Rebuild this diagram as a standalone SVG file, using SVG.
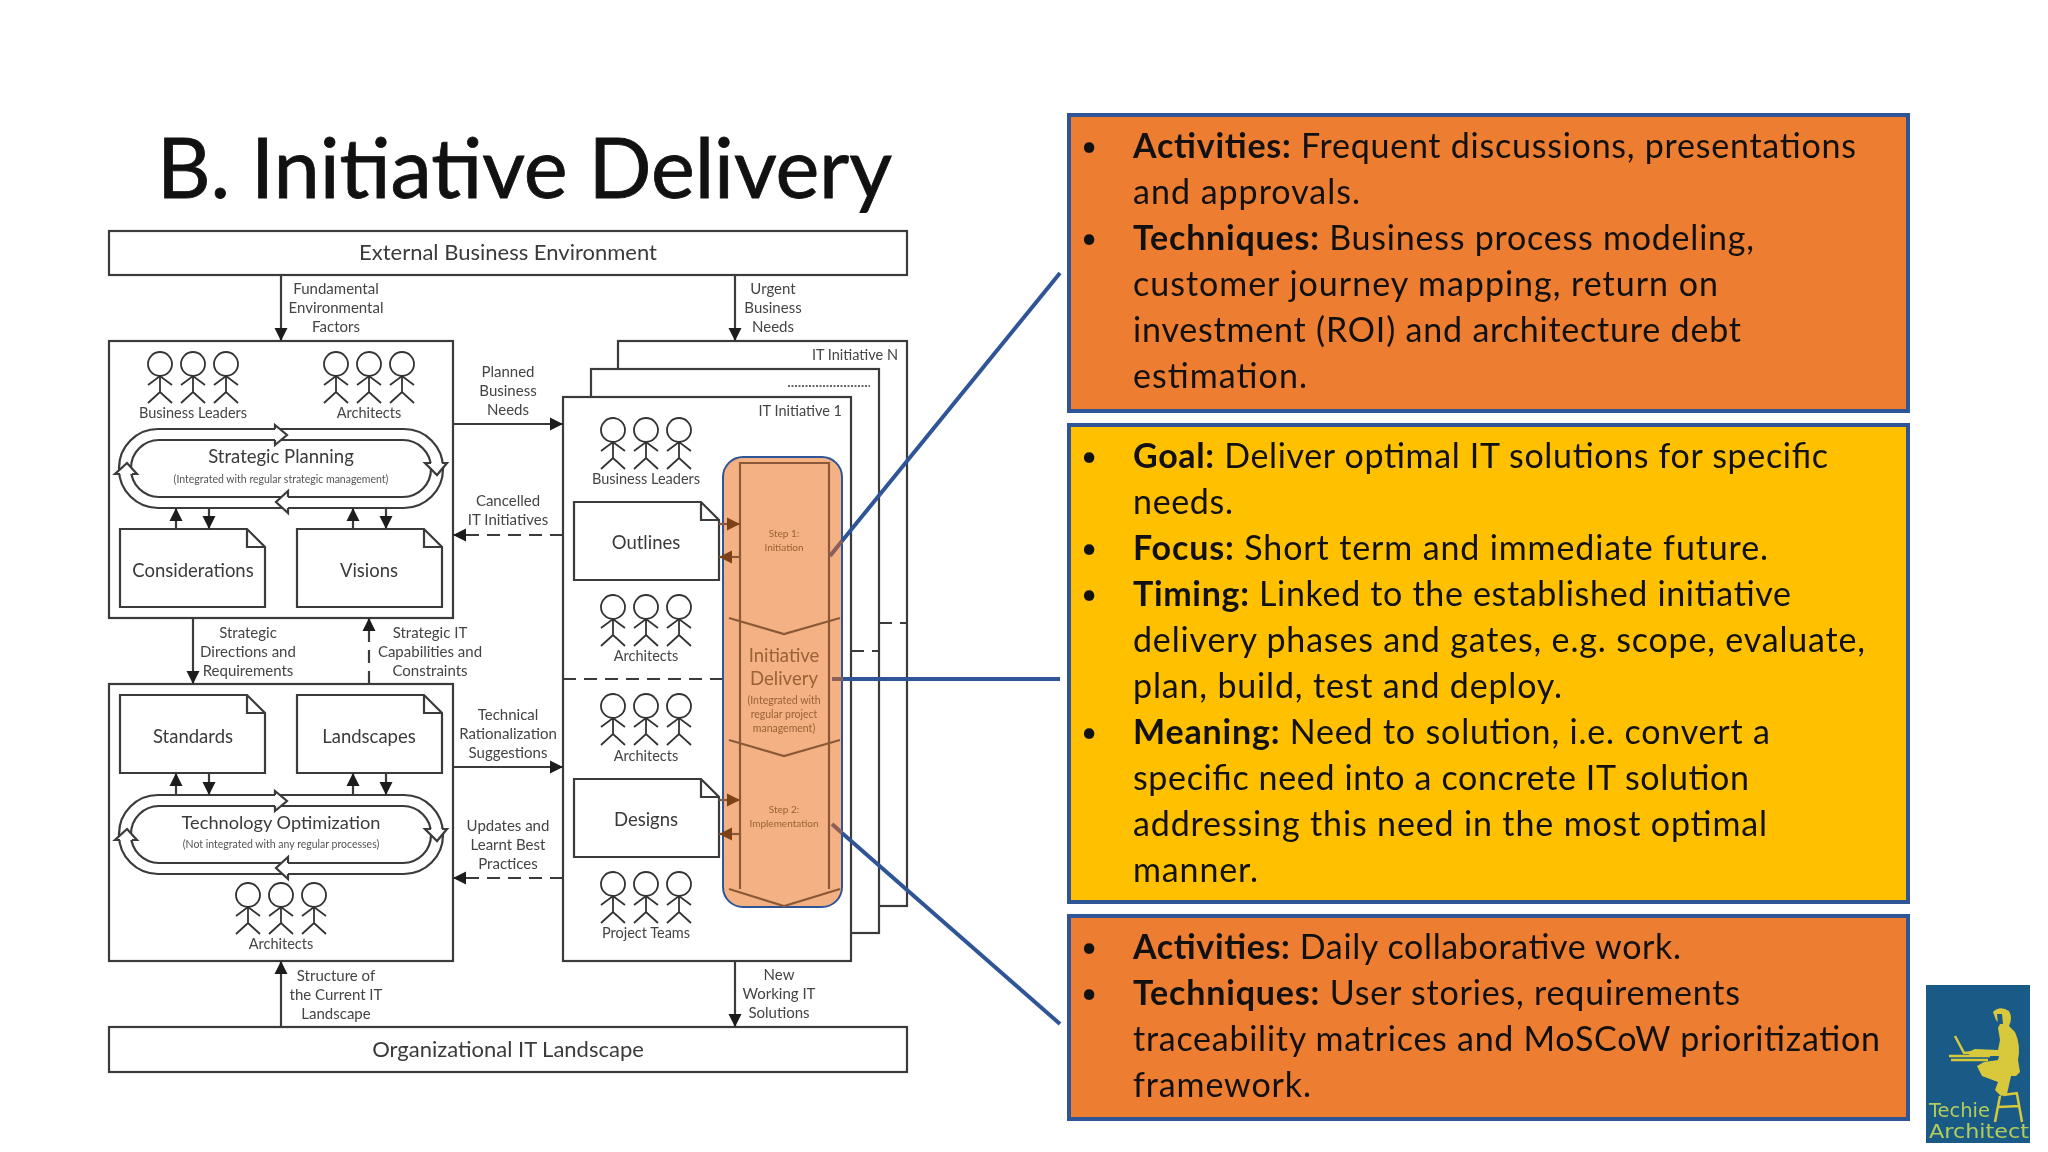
<svg xmlns="http://www.w3.org/2000/svg" width="2048" height="1152" viewBox="0 0 2048 1152">
<style>
text{font-family:"Lato","Liberation Sans",sans-serif}
.box{fill:#fff;stroke:#3a3a3a;stroke-width:2.2}
.ln{fill:none;stroke:#3a3a3a;stroke-width:2.2}
.arr{fill:none;stroke:#3a3a3a;stroke-width:2.2;marker-end:url(#ah)}
.dash{stroke-dasharray:13 8}
.lb{font-size:15px;fill:#444;text-anchor:middle}
.pl{font-size:14.5px;fill:#444;text-anchor:middle}
.doc{font-size:18.5px;fill:#3a3a3a;text-anchor:middle}
.big{font-size:22px;fill:#3a3a3a;text-anchor:middle}
.sub{font-size:10.5px;fill:#555;text-anchor:middle}
.br{fill:none;stroke:#8a5a38;stroke-width:2.2}
.brt{fill:#9a6238;text-anchor:middle}
.panel{stroke:#2f5597;stroke-width:4}
.t{font-size:34px;fill:#111}
.bu{font-size:28px;fill:#111}
.b{font-weight:700}
.fig{fill:none;stroke:#333;stroke-width:1.8}
.lo{fill:#d8c83c}
.lot{font-family:"DejaVu Sans",sans-serif;font-size:20px;fill:#b4cc58}
</style>
<defs>
<marker id="ah" markerUnits="userSpaceOnUse" markerWidth="14" markerHeight="14" refX="13" refY="7" orient="auto"><path d="M0,0.5 L13,7 L0,13.5 Z" fill="#1c1c1c"/></marker>
<marker id="bh" markerUnits="userSpaceOnUse" markerWidth="14" markerHeight="14" refX="13" refY="7" orient="auto"><path d="M0,0.5 L13,7 L0,13.5 Z" fill="#7a4216"/></marker>
<g id="man"><circle cx="0" cy="0" r="12"/><path d="M0,12 V28 M-12,21 L0,12 L12,21 M-12,39 L0,28 L12,39"/></g>
<g id="trio" class="fig"><use href="#man" x="-33"/><use href="#man"/><use href="#man" x="33"/></g>
<g id="loop">
<rect class="ln" x="119" y="429" width="324" height="79" rx="39"/>
<rect class="ln" x="131" y="440" width="300" height="57" rx="28"/>
<path class="ln" style="fill:#fff" d="M275,429 V425 L287,435 L275,445 V440"/>
<path class="ln" style="fill:#fff" d="M288,497 V491 L276,502 L288,513 V508"/>
<path class="ln" style="fill:#fff" d="M431,463 H425 L437,475 L447,463 H442"/>
<path class="ln" style="fill:#fff" d="M120,474 H115 L127,463 L137,474 H132"/>
</g>
<path id="doc" class="box" d="M0,0 H127 L145,18 V78 H0 Z M127,0 V18 H145"/>
<filter id="soft" x="-2%" y="-2%" width="104%" height="104%"><feGaussianBlur stdDeviation="0.5"/></filter>
</defs>
<rect width="2048" height="1152" fill="#fff"/>
<g id="title"><text x="157" y="198" font-size="83" fill="#111" stroke="#111" stroke-width="0.8" textLength="735">B. Initiative Delivery</text></g>
<g filter="url(#soft)">
<g id="external-env"><rect class="box" x="109" y="231" width="798" height="44"/><text class="big" x="508" y="260">External Business Environment</text></g>
<g id="org-landscape"><rect class="box" x="109" y="1027" width="798" height="45"/><text class="big" x="508" y="1057">Organizational IT Landscape</text></g>
<g id="initiative-n"><rect class="box" x="618" y="341" width="289" height="565"/><text class="pl" x="898" y="360" style="text-anchor:end">IT Initiative N</text></g>
<g id="initiative-mid"><rect class="box" x="591" y="369" width="288" height="564"/><path d="M788,386 H870" stroke="#666" stroke-width="2" stroke-dasharray="2 1.5"/></g>
<g id="initiative-1"><rect class="box" x="563" y="397" width="288" height="564"/><text class="pl" x="842" y="416" style="text-anchor:end">IT Initiative 1</text>
<use href="#trio" x="646" y="430"/><text class="pl" x="646" y="484">Business Leaders</text>
<use href="#trio" x="646" y="607"/><text class="pl" x="646" y="661">Architects</text>
<use href="#trio" x="646" y="706"/><text class="pl" x="646" y="761">Architects</text>
<use href="#trio" x="646" y="884"/><text class="pl" x="646" y="938">Project Teams</text>
</g>
<g id="strategic-planning"><rect class="box" x="109" y="341" width="344" height="277"/>
<use href="#trio" x="193" y="364"/><text class="pl" x="193" y="418">Business Leaders</text>
<use href="#trio" x="369" y="364"/><text class="pl" x="369" y="418">Architects</text>
<use href="#loop"/>
<text x="281" y="463" font-size="18.5" fill="#3a3a3a" text-anchor="middle">Strategic Planning</text>
<text class="sub" x="281" y="483">(Integrated with regular strategic management)</text>
</g>
<g id="considerations"><use href="#doc" x="120" y="529"/><text class="doc" x="193" y="577">Considerations</text></g>
<g id="visions"><use href="#doc" x="297" y="529"/><text class="doc" x="369" y="577">Visions</text></g>
<g id="technology-optimization"><rect class="box" x="109" y="684" width="344" height="277"/>
<use href="#loop" y="366"/>
<text x="281" y="829" font-size="18.2" fill="#3a3a3a" text-anchor="middle">Technology Optimization</text>
<text class="sub" x="281" y="848">(Not integrated with any regular processes)</text>
<use href="#trio" x="281" y="895"/><text class="pl" x="281" y="949">Architects</text>
</g>
<g id="standards"><use href="#doc" x="120" y="695"/><text class="doc" x="193" y="743">Standards</text></g>
<g id="landscapes"><use href="#doc" x="297" y="695"/><text class="doc" x="369" y="743">Landscapes</text></g>
<g id="outlines"><use href="#doc" x="574" y="502"/><text class="doc" x="646" y="549">Outlines</text></g>
<g id="designs"><use href="#doc" x="574" y="779"/><text class="doc" x="646" y="826">Designs</text></g>
<g id="connectors">
<path class="arr" d="M281,275 V341"/><path class="arr" d="M735,275 V341"/>
<path class="arr" d="M453,424 H563"/><path class="arr dash" d="M563,535 H453"/>
<path class="arr" d="M193,618 V684"/><path class="arr dash" d="M369,684 V618"/>
<path class="arr" d="M453,767 H563"/><path class="arr dash" d="M563,878 H453"/>
<path class="arr" d="M281,1027 V961"/><path class="arr" d="M735,961 V1027"/>
<path class="arr" d="M176,529 V508"/><path class="arr" d="M209,508 V529"/>
<path class="arr" d="M353,529 V508"/><path class="arr" d="M386,508 V529"/>
<path class="arr" d="M176,795 V773"/><path class="arr" d="M209,773 V795"/>
<path class="arr" d="M353,795 V773"/><path class="arr" d="M386,773 V795"/>
<path class="ln dash" d="M851,651 H879"/><path class="ln dash" d="M879,623 H907"/>
<path class="ln dash" d="M563,679 H740"/>
</g>
<g id="connector-labels">
<text class="lb" x="336" y="294">Fundamental</text><text class="lb" x="336" y="313">Environmental</text><text class="lb" x="336" y="332">Factors</text>
<text class="lb" x="773" y="294">Urgent</text><text class="lb" x="773" y="313">Business</text><text class="lb" x="773" y="332">Needs</text>
<text class="lb" x="508" y="377">Planned</text><text class="lb" x="508" y="396">Business</text><text class="lb" x="508" y="415">Needs</text>
<text class="lb" x="508" y="506">Cancelled</text><text class="lb" x="508" y="525">IT Initiatives</text>
<text class="lb" x="248" y="638">Strategic</text><text class="lb" x="248" y="657">Directions and</text><text class="lb" x="248" y="676">Requirements</text>
<text class="lb" x="430" y="638">Strategic IT</text><text class="lb" x="430" y="657">Capabilities and</text><text class="lb" x="430" y="676">Constraints</text>
<text class="lb" x="508" y="720">Technical</text><text class="lb" x="508" y="739">Rationalization</text><text class="lb" x="508" y="758">Suggestions</text>
<text class="lb" x="508" y="831">Updates and</text><text class="lb" x="508" y="850">Learnt Best</text><text class="lb" x="508" y="869">Practices</text>
<text class="lb" x="336" y="981">Structure of</text><text class="lb" x="336" y="1000">the Current IT</text><text class="lb" x="336" y="1019">Landscape</text>
<text class="lb" x="779" y="980">New</text><text class="lb" x="779" y="999">Working IT</text><text class="lb" x="779" y="1018">Solutions</text>
</g>
<g id="initiative-delivery">
<rect x="723" y="457" width="119" height="450" rx="20" fill="#f4b183" stroke="#2f5597" stroke-width="2"/>
<path class="br" d="M740,889 V463 H829 V889"/>
<path class="br" d="M729,618 L784,634 L840,618"/>
<path class="br" d="M729,740 L784,756 L840,740"/>
<path class="br" d="M729,889 L784,906 L840,889"/>
<path class="br" d="M719,524 H740" style="marker-end:url(#bh)"/>
<path class="br" d="M740,557 H719" style="marker-end:url(#bh)"/>
<path class="br" d="M719,800 H740" style="marker-end:url(#bh)"/>
<path class="br" d="M740,834 H719" style="marker-end:url(#bh)"/>
<text class="brt" x="784" y="537" font-size="10">Step 1:</text><text class="brt" x="784" y="551" font-size="10">Initiation</text>
<text class="brt" x="784" y="662" font-size="18.5">Initiative</text><text class="brt" x="784" y="685" font-size="18.5">Delivery</text>
<text class="brt" x="784" y="704" font-size="10.5">(Integrated with</text><text class="brt" x="784" y="718" font-size="10.5">regular project</text><text class="brt" x="784" y="732" font-size="10.5">management)</text>
<text class="brt" x="784" y="813" font-size="10">Step 2:</text><text class="brt" x="784" y="827" font-size="10">Implementation</text>
</g>
</g>
<g id="callout-lines" fill="none" stroke="#2f5597" stroke-width="4">
<path d="M842,541 L1060,273"/><path d="M843,679 H1060"/><path d="M842,833 L1060,1024"/>
<g stroke="#8b5f5a"><path d="M830,556 L842,541"/><path d="M832,679 H843"/><path d="M832,824 L842,833"/></g>
</g>
<g id="panel-1"><rect class="panel" x="1069" y="115" width="839" height="296" fill="#ed7d31"/>
<text class="bu" x="1081" y="156">•</text><text class="bu" x="1081" y="248">•</text>
<text class="t" x="1133" y="158" textLength="723"><tspan class="b">Activities:</tspan> Frequent discussions, presentations</text>
<text class="t" x="1133" y="204" textLength="227">and approvals.</text>
<text class="t" x="1133" y="250" textLength="621"><tspan class="b">Techniques:</tspan> Business process modeling,</text>
<text class="t" x="1133" y="296" textLength="585">customer journey mapping, return on</text>
<text class="t" x="1133" y="342" textLength="608">investment (ROI) and architecture debt</text>
<text class="t" x="1133" y="388" textLength="174">estimation.</text>
</g>
<g id="panel-2"><rect class="panel" x="1069" y="425" width="839" height="477" fill="#ffc000"/>
<text class="bu" x="1081" y="466">•</text><text class="bu" x="1081" y="558">•</text><text class="bu" x="1081" y="604">•</text><text class="bu" x="1081" y="742">•</text>
<text class="t" x="1133" y="468" textLength="695"><tspan class="b">Goal:</tspan> Deliver optimal IT solutions for specific</text>
<text class="t" x="1133" y="514" textLength="100">needs.</text>
<text class="t" x="1133" y="560" textLength="635"><tspan class="b">Focus:</tspan> Short term and immediate future.</text>
<text class="t" x="1133" y="606" textLength="658"><tspan class="b">Timing:</tspan> Linked to the established initiative</text>
<text class="t" x="1133" y="652" textLength="732">delivery phases and gates, e.g. scope, evaluate,</text>
<text class="t" x="1133" y="698" textLength="429">plan, build, test and deploy.</text>
<text class="t" x="1133" y="744" textLength="637"><tspan class="b">Meaning:</tspan> Need to solution, i.e. convert a</text>
<text class="t" x="1133" y="790" textLength="616">specific need into a concrete IT solution</text>
<text class="t" x="1133" y="836" textLength="634">addressing this need in the most optimal</text>
<text class="t" x="1133" y="882" textLength="125">manner.</text>
</g>
<g id="panel-3"><rect class="panel" x="1069" y="916" width="839" height="203" fill="#ed7d31"/>
<text class="bu" x="1081" y="957">•</text><text class="bu" x="1081" y="1003">•</text>
<text class="t" x="1133" y="959" textLength="548"><tspan class="b">Activities:</tspan> Daily collaborative work.</text>
<text class="t" x="1133" y="1005" textLength="607"><tspan class="b">Techniques:</tspan> User stories, requirements</text>
<text class="t" x="1133" y="1051" textLength="747">traceability matrices and MoSCoW prioritization</text>
<text class="t" x="1133" y="1097" textLength="178">framework.</text>
</g>
<g id="logo"><rect x="1926" y="985" width="104" height="158" fill="#1a5a86"/>
<path class="lo" d="M1993,1012 Q2000,1005 2009,1011 Q2013,1018 2009,1026 L2015,1032 Q2021,1045 2018,1060 L2020,1072 L2016,1076 L2011,1076 L2007,1094 L2001,1096 L1995,1090 L1998,1082 L1982,1076 L1977,1066 L1984,1062 L1998,1060 L1999,1056 L1972,1056 L1966,1053 L1975,1049 L1998,1050 L2000,1040 L1998,1028 L2000,1024 L1996,1020 Z"/>
<path d="M1997,1014 L2002,1014 L2003,1024 L1998,1024 Z" fill="#1a5a86"/>
<g fill="none" stroke="#d8c83c" stroke-width="2.5">
<path d="M1955,1036 L1964,1053 L1976,1052"/>
<path d="M1949,1056 H1990 M1951,1060 H1988"/>
<path d="M2003,1095 L2018,1093 M2000,1096 L1995,1122 M2017,1094 L2022,1122 M1999,1107 L2019,1106"/>
</g>
<text class="lot" x="1929" y="1117" textLength="61" lengthAdjust="spacingAndGlyphs">Techie</text>
<text class="lot" x="1929" y="1138" textLength="100" lengthAdjust="spacingAndGlyphs">Architect</text>
</g>
</svg>
